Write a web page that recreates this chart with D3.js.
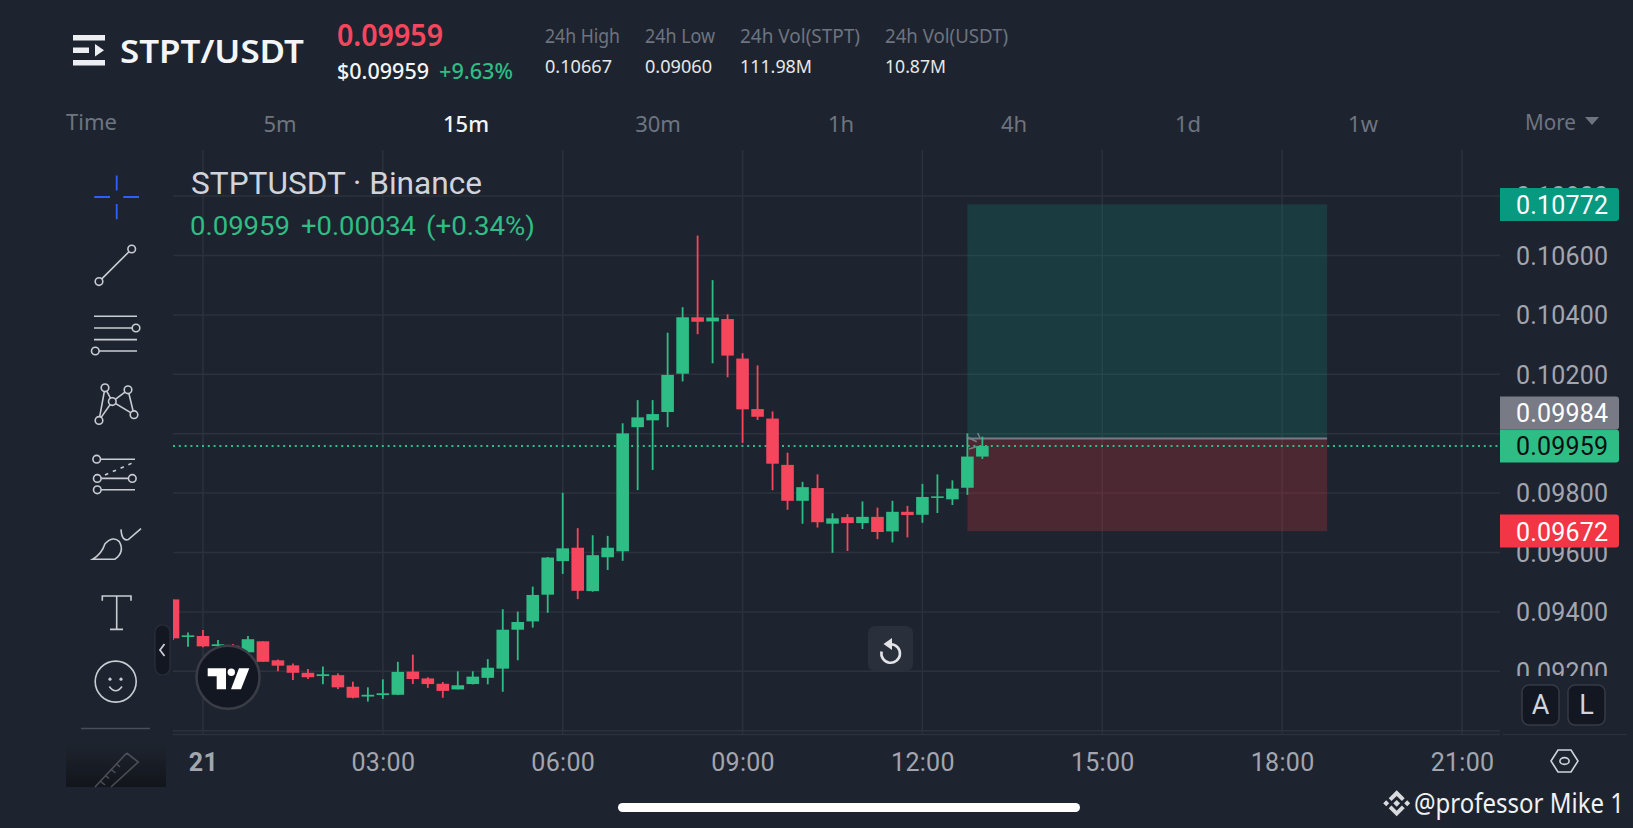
<!DOCTYPE html>
<html>
<head>
<meta charset="utf-8">
<title>STPT/USDT</title>
<script src="https://d3js.org/d3.v7.min.js"></script>
<style>
html, body { margin: 0; padding: 0; background: #1e242f; overflow: hidden; }
svg { display: block; }
</style>
</head>
<body>
<svg id="chart" width="1633" height="828"></svg>
<script>
// 15m bars, first one starts half an hour before the "21" tick
var firstBarHour = -0.5;
var barStep = 0.25;
var opens = [.09442,.09316,.09319,.09285,.09286,.09264,.09301,.09237,.0922,.09195,.09184,.09187,.09148,.09115,.0912,.09121,.09199,.09176,.09158,.09139,.09157,.09178,.09209,.0934,.09368,.09458,.09571,.09616,.0947,.09584,.09604,.10022,.10045,.10073,.10202,.10392,.10378,.10386,.10253,.10083,.10051,.09895,.09774,.09817,.09697,.09719,.09699,.0972,.09671,.09737,.09727,.09785,.09779,.09818,.09923];
var highs = [.09442,.09331,.09339,.09305,.09292,.09319,.09301,.0924,.09226,.09208,.09216,.09193,.09165,.09146,.09173,.09232,.09256,.0918,.09164,.092,.092,.09241,.09409,.09401,.09485,.09585,.09801,.09682,.09658,.09656,.10035,.10113,.10113,.1034,.10426,.10667,.10517,.10402,.10271,.1023,.10075,.09936,.09838,.09863,.09732,.09729,.09772,.09751,.09774,.09757,.09831,.09863,.09843,.10001,.0999];
var lows = [.09305,.09283,.09281,.09272,.09265,.09262,.09232,.092,.09171,.09174,.09156,.0914,.09109,.09098,.09107,.0912,.09157,.09144,.09111,.09139,.09156,.09156,.09131,.09237,.09347,.09397,.09528,.09443,.09468,.09541,.09572,.0981,.09878,.10022,.10176,.10335,.10237,.1019,.09969,.10046,.0981,.09744,.09697,.09684,.09599,.09605,.09679,.09645,.09634,.09651,.097,.09733,.0976,.09794,.09915];
var closes = [.09311,.09321,.09284,.09291,.09272,.09308,.09232,.09219,.09195,.0918,.0919,.09146,.09111,.09121,.09126,.09198,.09174,.09157,.09134,.09153,.09182,.09212,.0934,.09366,.09457,.09583,.09614,.09471,.09591,.09616,.10001,.10055,.10066,.10198,.10392,.10377,.10391,.10263,.10082,.10057,.09899,.09774,.0982,.09702,.09715,.09699,.0972,.09669,.09737,.09726,.09787,.09789,.09815,.09923,.09959];

var priceTicks = [.09, .092, .094, .096, .098, .1, .102, .104, .106, .108];
// .090 and .100 sit under the buttons and the price tags
var priceLabels = [.092, .094, .096, .098, .102, .104, .106, .108];
var timeTicks = [0, 3, 6, 9, 12, 15, 18, 21];
var timeLabels = ["21", "03:00", "06:00", "09:00", "12:00", "15:00", "18:00", "21:00"];
var lastPrice = .09959;
var targetPrice = .10772;
var entryPrice = .09984;
var stopPrice = .09672;
var toolStartHour = 12.75;
var toolEndHour = 18.75;

var intervals = ["5m", "15m", "30m", "1h", "4h", "1d", "1w"];
var intervalX = [280, 466, 658, 841, 1014, 1188, 1363];
var statNames = ["24h High", "24h Low", "24h Vol(STPT)", "24h Vol(USDT)"];
var statValues = ["0.10667", "0.09060", "111.98M", "10.87M"];
var statX = [545, 645, 740, 885];
var statNameW = [75, 70, 120, 123];
var statValueW = [67, 67, 72, 61];

var bg = "#1e242f", up = "#2ebd85", down = "#f6465d", gridColor = "#2c323d";
var iconColor = "#c9ccd2", iconFont = "Roboto, sans-serif", uiFont = "'Noto Sans', sans-serif";

var svg = d3.select("#chart");
var left = 173, right = 1500, top_ = 150, bottom = 734;

var x = d3.scaleLinear().domain([0, 21]).range([203, 1462]);
var y = d3.scaleLinear().domain([.106, .092]).range([255.5, 671.3]);

function label(parent, px, py, str, o) {
    o = o || {};
    var t = parent.append("text")
        .attr("x", px).attr("y", py).text(str)
        .attr("fill", o.color || "#fff")
        .attr("font-family", o.font || uiFont)
        .attr("font-size", o.size || 20)
        .attr("font-weight", o.weight || 400)
        .attr("text-anchor", o.anchor || "start");
    if (o.w) t.attr("textLength", o.w).attr("lengthAdjust", "spacingAndGlyphs");
    return t;
}

svg.append("rect").attr("width", 1633).attr("height", 828).attr("fill", bg);

var defs = svg.append("defs");
defs.append("clipPath").attr("id", "plotClip").append("rect")
    .attr("x", left).attr("y", top_).attr("width", right - left).attr("height", bottom - top_);
defs.append("clipPath").attr("id", "priceClip").append("rect")
    .attr("x", right).attr("y", top_).attr("width", 133).attr("height", 676 - top_);
var tileGrad = defs.append("linearGradient").attr("id", "tileGrad").attr("x1", 0).attr("x2", 0).attr("y1", 0).attr("y2", 1);
tileGrad.append("stop").attr("offset", 0).attr("stop-color", bg);
tileGrad.append("stop").attr("offset", 1).attr("stop-color", "#12151b");

// grid
var plot = svg.append("g").attr("clip-path", "url(#plotClip)");
plot.selectAll(".gridH").data(priceTicks).enter().append("line")
    .attr("x1", left).attr("x2", right)
    .attr("y1", function(d) { return y(d); }).attr("y2", function(d) { return y(d); })
    .attr("stroke", gridColor).attr("stroke-width", 1.5);
plot.selectAll(".gridV").data(timeTicks).enter().append("line")
    .attr("y1", top_).attr("y2", bottom)
    .attr("x1", function(d) { return x(d); }).attr("x2", function(d) { return x(d); })
    .attr("stroke", gridColor).attr("stroke-width", 1.5);
svg.append("line").attr("x1", left).attr("x2", right).attr("y1", bottom + .5).attr("y2", bottom + .5)
    .attr("stroke", gridColor).attr("stroke-width", 1.5);
svg.append("line").attr("x1", 1503).attr("x2", 1627).attr("y1", bottom + .5).attr("y2", bottom + .5)
    .attr("stroke", gridColor).attr("stroke-width", 1);

// long position tool
plot.append("rect").attr("x", x(toolStartHour)).attr("width", x(toolEndHour) - x(toolStartHour))
    .attr("y", y(targetPrice)).attr("height", y(entryPrice) - y(targetPrice))
    .attr("fill", "#089981").attr("fill-opacity", .2);
plot.append("rect").attr("x", x(toolStartHour)).attr("width", x(toolEndHour) - x(toolStartHour))
    .attr("y", y(entryPrice)).attr("height", y(stopPrice) - y(entryPrice))
    .attr("fill", "#f23645").attr("fill-opacity", .22);
plot.append("line").attr("x1", x(toolStartHour)).attr("x2", x(toolEndHour))
    .attr("y1", y(entryPrice)).attr("y2", y(entryPrice))
    .attr("stroke", "#787b86").attr("stroke-width", 2);

// last price line
plot.append("line").attr("x1", left).attr("x2", right)
    .attr("y1", y(lastPrice)).attr("y2", y(lastPrice))
    .attr("stroke", up).attr("stroke-width", 2).attr("stroke-dasharray", "2 3.8");

// candles
var bars = opens.map(function(o, i) {
    return { hour: firstBarHour + i * barStep, o: o, h: highs[i], l: lows[i], c: closes[i] };
});
var bodyW = (x(barStep) - x(0)) * .84;
var candle = plot.selectAll(".candle").data(bars).enter().append("g").attr("class", "candle");
candle.append("line")
    .attr("x1", function(d) { return x(d.hour); }).attr("x2", function(d) { return x(d.hour); })
    .attr("y1", function(d) { return y(d.h); }).attr("y2", function(d) { return y(d.l); })
    .attr("stroke", function(d) { return d.c >= d.o ? up : down; }).attr("stroke-width", 1.8);
candle.append("rect")
    .attr("x", function(d) { return x(d.hour) - bodyW / 2; }).attr("width", bodyW)
    .attr("y", function(d) { return y(Math.max(d.o, d.c)); })
    .attr("height", function(d) { return Math.max(1.6, Math.abs(y(d.o) - y(d.c))); })
    .attr("fill", function(d) { return d.c >= d.o ? up : down; });

// little grey handle marks of the tool
svg.append("path").attr("d", "M966.7,436.7L976.7,441.7M969,449L976.7,446.7M977.7,433L980,438")
    .attr("stroke", "#787b86").attr("stroke-width", 1.6).attr("fill", "none");

// axes
var yAxis = d3.axisRight(y).tickValues(priceLabels).tickSize(0).tickPadding(0).tickFormat(d3.format(".5f"));
var yG = svg.append("g").attr("clip-path", "url(#priceClip)").append("g")
    .attr("transform", "translate(1516,0.7)").call(yAxis);
yG.select(".domain").remove();
yG.selectAll("text").attr("fill", "#a3a6af").attr("font-family", iconFont).attr("font-size", 25).attr("letter-spacing", .2);

var xAxis = d3.axisBottom(x).tickValues(timeTicks).tickSize(0).tickPadding(0)
    .tickFormat(function(d, i) { return timeLabels[i]; });
var xG = svg.append("g").attr("transform", "translate(0,753)").call(xAxis);
xG.select(".domain").remove();
xG.selectAll("text").attr("fill", "#a3a6af").attr("font-family", iconFont).attr("font-size", 25)
    .attr("letter-spacing", .3)
    .attr("font-weight", function(d, i) { return i == 0 ? 700 : 400; });

// price tags, lowest first, a tag that would run into the one below moves up
var tagH = 33;
var tags = [
    { v: stopPrice, fill: "#f23645", color: "#fff" },
    { v: lastPrice, fill: up, color: "#0b0e11" },
    { v: entryPrice, fill: "#787b86", color: "#fff" },
    { v: targetPrice, fill: "#089981", color: "#fff" }
];
tags.forEach(function(d, i) {
    d.cy = y(d.v);
    if (i > 0 && d.cy + tagH / 2 > tags[i - 1].cy - tagH / 2) d.cy = tags[i - 1].cy - tagH;
});
var tag = svg.selectAll(".tag").data(tags).enter().append("g").attr("class", "tag");
tag.append("path").attr("fill", function(d) { return d.fill; })
    .attr("d", function(d) {
        var t = d.cy - tagH / 2;
        return "M1500," + t + "H1616a3,3 0 0 1 3,3V" + (t + tagH - 3) + "a3,3 0 0 1 -3,3H1500Z";
    });
tag.append("text").attr("x", 1516).attr("y", function(d) { return d.cy + 9.6; })
    .attr("fill", function(d) { return d.color; })
    .attr("font-family", iconFont).attr("font-size", 25).attr("letter-spacing", .2)
    .text(function(d) { return d3.format(".5f")(d.v); });

// header
var menu = svg.append("g").attr("fill", "#eceef1");
menu.append("rect").attr("x", 73).attr("y", 35).attr("width", 32).attr("height", 5.5);
menu.append("rect").attr("x", 73).attr("y", 60).attr("width", 32).attr("height", 5.5);
menu.append("rect").attr("x", 73).attr("y", 47.5).attr("width", 16).attr("height", 5.5);
menu.append("path").attr("d", "M95,44L104,50.3L95,56.6Z");

label(svg, 120, 63, "STPT/USDT", { size: 33, weight: 600, color: "#f4f5f6", w: 184 });
label(svg, 337, 46, "0.09959", { size: 30, weight: 600, color: down, w: 106 });
label(svg, 337, 79, "$0.09959", { size: 22, weight: 500, color: "#f4f5f6", w: 92 });
label(svg, 439, 79, "+9.63%", { size: 22, weight: 500, color: up, w: 74 });
statNames.forEach(function(s, i) {
    label(svg, statX[i], 43, s, { size: 20, color: "#6e7480", w: statNameW[i] });
    label(svg, statX[i], 73, statValues[i], { size: 18.5, color: "#e6e8ea", w: statValueW[i] });
});

label(svg, 66, 130, "Time", { size: 22.5, color: "#6e7480", w: 51 });
intervals.forEach(function(s, i) {
    label(svg, intervalX[i], 132, s, { size: 22, anchor: "middle",
        color: s == "15m" ? "#f4f5f6" : "#6e7480", weight: s == "15m" ? 500 : 400 });
});
label(svg, 1525, 130, "More", { size: 22.5, color: "#6e7480", w: 51 });
svg.append("path").attr("d", "M1585,117H1599L1592,125Z").attr("fill", "#6e7480");

// legend
label(svg, 191, 194, "STPTUSDT · Binance", { font: iconFont, size: 30.5, color: "#d1d4dc", w: 291 });
label(svg, 190, 235, "0.09959", { font: iconFont, size: 25.5, color: up, w: 100 });
label(svg, 301, 235, "+0.00034", { font: iconFont, size: 25.5, color: up, w: 115 });
label(svg, 426, 235, "(+0.34%)", { font: iconFont, size: 25.5, color: up, w: 109 });

// drawing toolbar
function icon(d) {
    return svg.append("path").attr("d", d).attr("fill", "none")
        .attr("stroke", iconColor).attr("stroke-width", 1.6);
}
function ring(cx, cy, r) {
    svg.append("circle").attr("cx", cx).attr("cy", cy).attr("r", r || 3.8)
        .attr("fill", bg).attr("stroke", iconColor).attr("stroke-width", 1.6);
}
icon("M94.3,197H110M123.3,197H139M116.7,175.5V190.6M116.7,204V219.2").attr("stroke", "#2962ff").attr("stroke-width", 1.8);

icon("M99,281.6L131.7,249");
ring(99, 281.6); ring(131.7, 249);

icon("M94,316.3H137M94,328H136M94,339.6H137M95,351H137");
ring(136, 328); ring(95.3, 351);

icon("M105,387.8L99,420.4M105,387.8L112.3,401.6L128,389.8L134,414.7L112.3,401.6L99,420.4");
[[105, 387.8], [128, 389.8], [112.3, 401.6], [99, 420.4], [134, 414.7]].forEach(function(p) { ring(p[0], p[1]); });

icon("M96.7,459.2H135M97.3,478.4H132.3M97.3,489.8H135");
icon("M105,475L132.7,462.9").attr("stroke-dasharray", "3.5 5");
ring(96.7, 459.2); ring(97.3, 478.4); ring(132.3, 478.4); ring(97.3, 489.8);

icon("M92.7,559.2H115Q125,551.8 119.3,541.6Q113.3,535.5 105,543.7Q101.7,553.9 92.7,559.2ZM121,529.4Q121.7,541.6 128.3,539.6L141,528.6");
icon("M102.3,600.8V596H131V600.8M116.7,596V629.4M110,629.4H123");

svg.append("circle").attr("cx", 115.7).attr("cy", 681.6).attr("r", 20.5)
    .attr("fill", "none").attr("stroke", iconColor).attr("stroke-width", 1.6);
svg.append("circle").attr("cx", 110).attr("cy", 679.2).attr("r", 1.6).attr("fill", iconColor);
svg.append("circle").attr("cx", 121).attr("cy", 679.2).attr("r", 1.6).attr("fill", iconColor);
icon("M109.3,686.5Q115.7,695 122,686.5");

svg.append("line").attr("x1", 81).attr("x2", 150).attr("y1", 728.6).attr("y2", 728.6)
    .attr("stroke", "#4a4e58").attr("stroke-width", 1.5);
svg.append("rect").attr("x", 66).attr("y", 742).attr("width", 100).attr("height", 45).attr("fill", "url(#tileGrad)");
icon("M126.7,753L138.3,762L111,787M95,787L126.7,753M116,763.5L120,767M110.5,769L115.5,773M105,775L109,778.5M100,781L105,785")
    .attr("stroke", "#4b4e56");

// collapse handle
svg.append("rect").attr("x", 155).attr("y", 625).attr("width", 15).attr("height", 50).attr("rx", 7.5)
    .attr("fill", "#131722").attr("stroke", "#2b2f3a").attr("stroke-width", 1.2);
icon("M164.5,644L160,650L164.5,656").attr("stroke-width", 1.8);

// tradingview badge
var tv = svg.append("g").attr("transform", "translate(228,677.3)");
tv.append("circle").attr("r", 31.5).attr("fill", "#131722").attr("stroke", "#3a3d45").attr("stroke-width", 2.5);
tv.append("path").attr("fill", "#fff")
    .attr("d", "M-20.3,-9H-2V12H-11.3V-1H-20.3ZM11,-9H21.3L13,12H3Z");
tv.append("circle").attr("cx", 3.3).attr("cy", -5).attr("r", 3.7).attr("fill", "#fff");

// reset button
svg.append("rect").attr("x", 868).attr("y", 626).attr("width", 45).attr("height", 45).attr("rx", 7).attr("fill", "#2a2f3c");
icon("M891,644.2A9.3,9.3 0 1 1 881.6,651.5").attr("stroke", "#e2e4e8").attr("stroke-width", 2.6);
svg.append("path").attr("d", "M883.5,644L892,638V650Z").attr("fill", "#e2e4e8");

// A / L buttons
[["A", 1522], ["L", 1568]].forEach(function(b) {
    svg.append("rect").attr("x", b[1]).attr("y", 685).attr("width", 37).attr("height", 40).attr("rx", 7)
        .attr("fill", "#131722").attr("stroke", "#363a45").attr("stroke-width", 1.5);
    label(svg, b[1] + 18.5, 714, b[0], { font: iconFont, size: 27, anchor: "middle", color: "#d1d4dc" });
});

// settings hexagon
icon("M1551,761L1558,750H1571L1578,761L1571,772H1558Z").attr("stroke", "#d1d4dc");
svg.append("ellipse").attr("cx", 1564.5).attr("cy", 761).attr("rx", 4.6).attr("ry", 3.4)
    .attr("fill", "none").attr("stroke", "#d1d4dc").attr("stroke-width", 1.6);

// home bar and watermark
svg.append("rect").attr("x", 618).attr("y", 803).attr("width", 462).attr("height", 9).attr("rx", 4.5).attr("fill", "#fff");
var mark = svg.append("g").attr("transform", "translate(1396.7,803.3)").attr("fill", "#d8dade");
mark.append("path").attr("d", "M-3.4,0L0,-3.4L3.4,0L0,3.4ZM-13.5,0L-10.5,-3L-7.5,0L-10.5,3ZM7.5,0L10.5,-3L13.5,0L10.5,3Z");
mark.append("path").attr("d", "M0,-13L8,-5L5.2,-2.2L0,-7.4L-5.2,-2.2L-8,-5ZM0,13L8,5L5.2,2.2L0,7.4L-5.2,2.2L-8,5Z");
label(svg, 1414, 813, "@professor Mike 1", { size: 26.5, color: "#f0f1f3", w: 210 });
</script>
</body>
</html>
